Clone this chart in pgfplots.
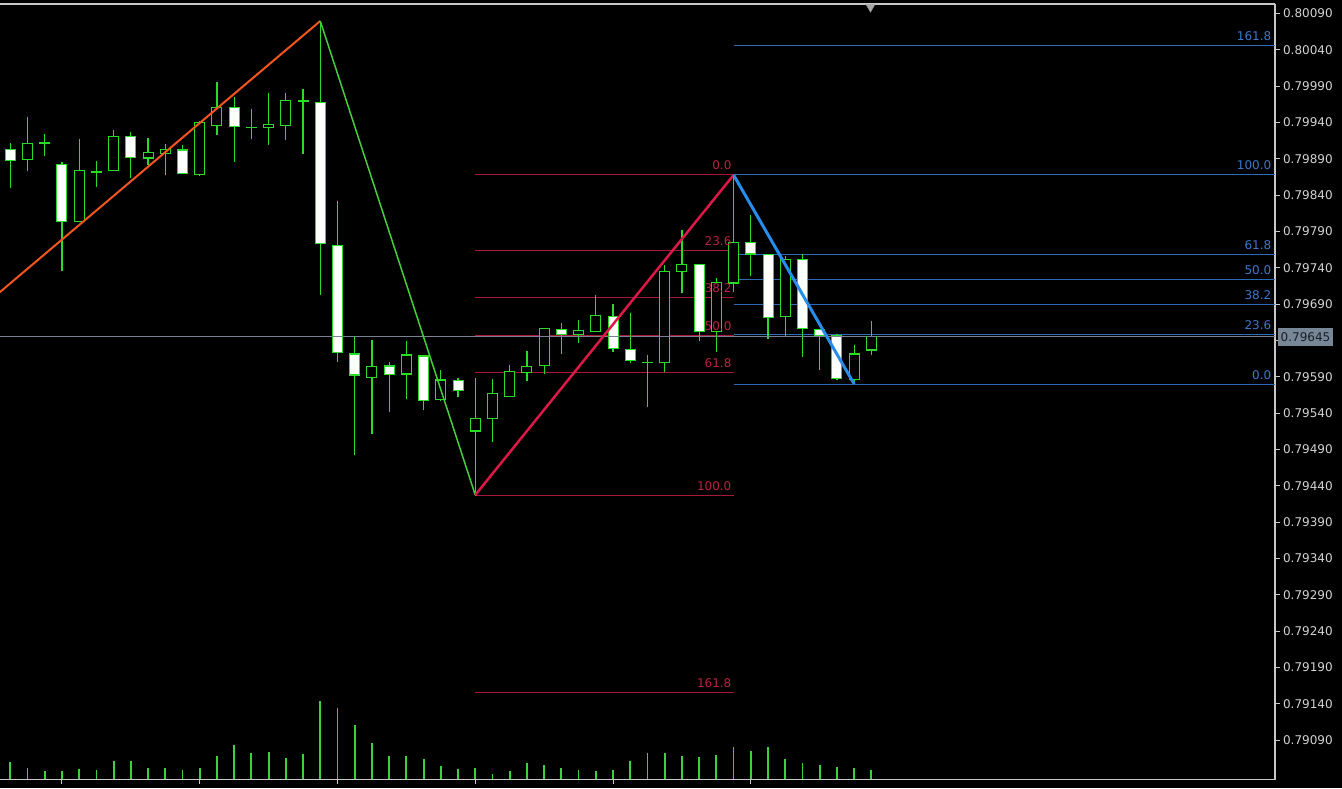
\documentclass[border=0pt]{standalone}
\usepackage{fontspec}
\setmainfont{DejaVu Sans}
\usepackage{pgfplots}
\usepackage{pgfplotstable}
\pgfplotsset{compat=1.18}
\usetikzlibrary{backgrounds}

\definecolor{candlegreen}{RGB}{40,220,40}
\definecolor{volgreen}{RGB}{60,210,60}
\definecolor{fibred}{RGB}{165,25,55}
\definecolor{fibredtext}{RGB}{185,35,65}
\definecolor{fibblue}{RGB}{45,105,185}
\definecolor{fibbluetext}{RGB}{60,120,205}
\definecolor{trendorange}{RGB}{245,85,30}
\definecolor{trendgreen}{RGB}{70,205,60}
\definecolor{trendred}{RGB}{220,25,70}
\definecolor{trendblue}{RGB}{40,140,235}
\definecolor{pricegray}{RGB}{120,132,145}
\definecolor{axisgray}{RGB}{200,200,200}
\definecolor{labelgray}{RGB}{210,210,210}
\definecolor{pricebox}{RGB}{120,135,150}

% i: bar index, o h l c: open high low close, v: tick volume
\pgfplotstableread{
i o h l c v
0 0.79904 0.79913 0.79851 0.79889 52
1 0.79890 0.79949 0.79874 0.79912 35
2 0.79912 0.79925 0.79895 0.79912 26
3 0.79884 0.79885 0.79735 0.79805 26
4 0.79804 0.79917 0.79803 0.79874 32
5 0.79874 0.79888 0.79851 0.79873 29
6 0.79875 0.79930 0.79874 0.79921 55
7 0.79921 0.79928 0.79865 0.79892 55
8 0.79891 0.79919 0.79881 0.79899 35
9 0.79898 0.79910 0.79868 0.79903 35
10 0.79902 0.79909 0.79869 0.79870 29
11 0.79869 0.79943 0.79868 0.79940 35
12 0.79937 0.79997 0.79923 0.79961 70
13 0.79961 0.79976 0.79887 0.79935 103
14 0.79934 0.79960 0.79918 0.79934 81
15 0.79934 0.79981 0.79910 0.79938 84
16 0.79937 0.79982 0.79917 0.79971 64
17 0.79971 0.79987 0.79897 0.79971 78
18 0.79968 0.80079 0.79703 0.79774 235
19 0.79771 0.79833 0.79611 0.79623 216
20 0.79622 0.79645 0.79483 0.79593 165
21 0.79591 0.79642 0.79513 0.79606 110
22 0.79606 0.79611 0.79542 0.79594 70
23 0.79594 0.79640 0.79560 0.79620 70
24 0.79620 0.79621 0.79545 0.79559 61
25 0.79559 0.79600 0.79558 0.79586 41
26 0.79585 0.79588 0.79562 0.79572 32
27 0.79516 0.79589 0.79427 0.79533 35
28 0.79533 0.79588 0.79501 0.79568 16
29 0.79564 0.79607 0.79563 0.79599 26
30 0.79597 0.79627 0.79586 0.79606 49
31 0.79606 0.79657 0.79594 0.79657 44
32 0.79656 0.79666 0.79623 0.79649 35
33 0.79649 0.79669 0.79637 0.79655 29
34 0.79653 0.79702 0.79652 0.79675 26
35 0.79674 0.79691 0.79624 0.79630 29
36 0.79628 0.79679 0.79610 0.79613 55
37 0.79611 0.79620 0.79549 0.79611 81
38 0.79611 0.79746 0.79598 0.79736 81
39 0.79735 0.79793 0.79706 0.79745 70
40 0.79745 0.79746 0.79640 0.79653 67
41 0.79653 0.79726 0.79625 0.79720 75
42 0.79719 0.79868 0.79706 0.79775 97
43 0.79775 0.79814 0.79730 0.79759 87
44 0.79759 0.79760 0.79643 0.79673 97
45 0.79673 0.79756 0.79645 0.79751 61
46 0.79752 0.79759 0.79618 0.79657 49
47 0.79656 0.79657 0.79601 0.79647 44
48 0.79647 0.79650 0.79586 0.79588 38
49 0.79587 0.79634 0.79580 0.79622 35
50 0.79627 0.79668 0.79621 0.79645 29
}\candles

% fibonacci retracement, swing low (bar 27) -> swing high (bar 42)
\pgfplotstableread{
lvl price
0.0 0.798676
23.6 0.797637
38.2 0.796994
50.0 0.796475
61.8 0.795956
100.0 0.794274
161.8 0.791554
}\fibredtab

% fibonacci retracement, swing high (bar 42) -> swing low (bar 49)
\pgfplotstableread{
lvl price
0.0 0.795801
23.6 0.796480
38.2 0.796899
50.0 0.797239
61.8 0.797578
100.0 0.798676
161.8 0.800453
}\fibbluetab

\pgfplotsset{
  candle/.style 2 args={draw=none, mark=none, forget plot,
    error bars/y dir=both, error bars/y explicit, error bars/error mark=none,
    error bars/error bar style={line width=#1, draw=#2}},
  fiblabel/.style={draw=none, mark=none, nodes near coords,
    point meta=explicit symbolic,
    every node near coord/.append style={anchor=base east, inner sep=0pt,
      xshift=-2pt, yshift=5pt, text=#1, font=\fontsize{12}{14}\selectfont}},
}

\begin{document}
\begin{tikzpicture}[show background rectangle, inner frame sep=0pt,
  background rectangle/.style={fill=black}]
\useasboundingbox (0,0) rectangle (1342pt,788pt);

% volume pane
\begin{axis}[at={(0pt,8.5pt)}, anchor=south west, scale only axis,
  width=1275pt, height=775.5pt,
  xmin=-0.598, xmax=73.44, ymin=0, ymax=2326.5, hide axis]
\addplot[ycomb, volgreen, line width=1.8pt, mark=none] table[x=i, y=v] {\candles};
\end{axis}

% price pane
\begin{axis}[at={(0pt,8.5pt)}, anchor=south west, scale only axis,
  width=1275pt, height=775.5pt,
  xmin=-0.598, xmax=73.44, ymin=0.790361, ymax=0.801028,
  separate axis lines, axis x line=box, axis y line*=right,
  x axis line style={-}, y axis line style={-},
  axis line style={draw=axisgray, line width=1.2pt},
  xtick={3,11,19,27,35,43}, xticklabels={}, xtick pos=bottom,
  ytick={0.7909,0.7914,0.7919,0.7924,0.7929,0.7934,0.7939,0.7944,0.7949,
    0.7954,0.7959,0.7964,0.7969,0.7974,0.7979,0.7984,0.7989,0.7994,
    0.7999,0.8004,0.8009},
  yticklabels={0.79090,0.79140,0.79190,0.79240,0.79290,0.79340,0.79390,
    0.79440,0.79490,0.79540,0.79590,,0.79690,0.79740,0.79790,0.79840,
    0.79890,0.79940,0.79990,0.80040,0.80090},
  ytick pos=right, tick align=outside, major tick length=4.5pt,
  tick style={draw=axisgray, line width=1pt},
  tick label style={text=labelgray, font=\fontsize{12}{14}\selectfont},
  clip=false]

% fibonacci levels (behind the bars)
\addplot[fibred, line width=1pt, mark=none, quiver={u=15,v=0}]
  table[x expr=27, y=price] {\fibredtab};
\addplot[fiblabel=fibredtext] table[x expr=42, y=price, meta=lvl] {\fibredtab};
\addplot[fibblue, line width=1pt, mark=none, quiver={u=31.44,v=0}]
  table[x expr=42, y=price] {\fibbluetab};
\addplot[fiblabel=fibbluetext] table[x expr=73.35, y=price, meta=lvl] {\fibbluetab};

% candles: wick, outline, then body fill
\addplot[candle={1.2pt}{candlegreen}] table[x=i,
  y expr={(\thisrow{h}+\thisrow{l})/2},
  y error expr={(\thisrow{h}-\thisrow{l})/2}] {\candles};
\addplot[candle={11pt}{candlegreen}] table[x=i,
  y expr={(\thisrow{o}+\thisrow{c})/2},
  y error expr={abs(\thisrow{c}-\thisrow{o})/2+0.0000083}] {\candles};
\addplot[candle={9pt}{black},
  restrict expr to domain={\thisrow{c}>=\thisrow{o}}{0.5:1.5}] table[x=i,
  y expr={(\thisrow{o}+\thisrow{c})/2},
  y error expr={max(abs(\thisrow{c}-\thisrow{o})/2-0.0000083,0)}] {\candles};
\addplot[candle={9pt}{white},
  restrict expr to domain={\thisrow{c}<\thisrow{o}}{0.5:1.5}] table[x=i,
  y expr={(\thisrow{o}+\thisrow{c})/2},
  y error expr={max(abs(\thisrow{c}-\thisrow{o})/2-0.0000083,0)}] {\candles};

% current bid line
\addplot[pricegray, line width=1pt, mark=none] coordinates {(-0.598,0.79645) (73.44,0.79645)};

% zigzag trend lines
\begin{scope}
\clip (axis cs:-0.598,0.790361) rectangle (axis cs:73.44,0.801028);
\addplot[trendorange, line width=2pt, mark=none] coordinates {(-2,0.796785) (18,0.800794)};
\end{scope}
\addplot[trendgreen, line width=1.5pt, mark=none] coordinates {(18,0.800794) (27,0.794274)};
\addplot[trendred, line width=2.5pt, mark=none] coordinates {(27,0.794274) (42,0.798676)};
\addplot[trendblue, line width=3pt, mark=none] coordinates {(42,0.798676) (49,0.795801)};

% chart shift marker
\addplot[only marks, mark=triangle*, mark size=5pt,
  mark options={rotate=180, fill=gray!70, draw=gray!70}] coordinates {(49.95,0.800985)};

% current price tag
\node[anchor=west, fill=pricebox, text={rgb,255:red,25;green,30;blue,40},
  inner xsep=3pt, inner ysep=4.5pt, text height=9pt, text depth=0pt,
  font=\fontsize{12}{14}\selectfont, xshift=2.5pt]
  at (axis cs:73.44,0.79645) {0.79645};
\end{axis}
\end{tikzpicture}
\end{document}
